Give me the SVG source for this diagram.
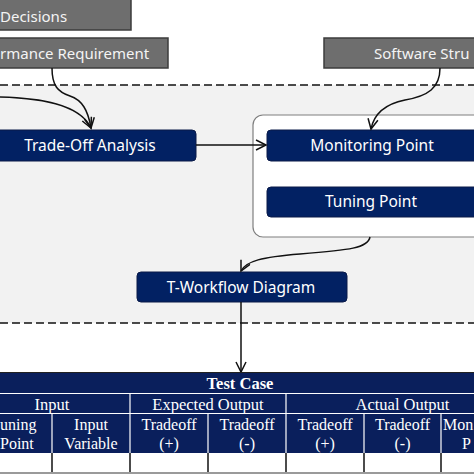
<svg xmlns="http://www.w3.org/2000/svg" width="474" height="474" viewBox="0 0 474 474">
<defs>
<marker id="arr" markerUnits="userSpaceOnUse" markerWidth="14" markerHeight="14" refX="11" refY="6" orient="auto">
<path d="M1,1 L11,6 L1,11" fill="none" stroke="#111" stroke-width="1.5"/>
</marker>
<style>
.gbox{fill:#6e6e6e;stroke:#3c3c3c;stroke-width:1.5}
.gtxt{font-family:"Noto Sans","Open Sans",sans-serif;font-size:15px;fill:#f4f4f4}
.nbox{fill:#022163;stroke:#0a1a48;stroke-width:1}
.ntxt{font-family:"Noto Sans","Open Sans",sans-serif;font-size:15.5px;fill:#ffffff;text-anchor:middle}
.conn{fill:none;stroke:#111;stroke-width:1.5}
.dash{stroke:#111;stroke-width:1.5;stroke-dasharray:8,4}
.tt{font-family:"Liberation Serif","Times New Roman",serif;font-size:16.5px;fill:#ffffff;text-anchor:middle}
.t2{font-size:16px}
.ts{text-anchor:start}
.wl{stroke:#ffffff;stroke-width:1.2}
.bl{stroke:#111;stroke-width:1.5}
</style>
</defs>
<rect width="474" height="474" fill="#ffffff"/>
<rect x="0" y="85" width="474" height="238" fill="#f2f2f2"/>
<line class="dash" x1="0" y1="85" x2="474" y2="85"/>
<line class="dash" x1="0" y1="323" x2="474" y2="323"/>

<g id="decisions">
<rect class="gbox" x="-5" y="-2" width="136" height="32"/>
<text class="gtxt" x="0" y="22">Decisions</text>
</g>
<g id="performance">
<rect class="gbox" x="-5" y="38" width="173" height="30"/>
<text class="gtxt" x="0" y="59">rmance Requirement</text>
</g>
<g id="software">
<rect class="gbox" x="324" y="38" width="160" height="30"/>
<text class="gtxt" x="374" y="59">Software Stru</text>
</g>

<g id="container">
<rect x="253" y="115" width="240" height="122" rx="10" fill="#ffffff" stroke="#7f7f7f" stroke-width="1.2"/>
</g>

<g id="tradeoff">
<rect class="nbox" x="-5" y="130" width="201" height="31" rx="4"/>
<text class="ntxt" x="90" y="151">Trade-Off Analysis</text>
</g>
<g id="monitoring">
<rect class="nbox" x="267" y="130" width="215" height="31" rx="4"/>
<text class="ntxt" x="372" y="151">Monitoring Point</text>
</g>
<g id="tuning">
<rect class="nbox" x="267" y="187" width="215" height="30" rx="4"/>
<text class="ntxt" x="371" y="207">Tuning Point</text>
</g>
<g id="tworkflow">
<rect class="nbox" x="137" y="272" width="210" height="30" rx="4"/>
<text class="ntxt" x="241" y="293">T-Workflow Diagram</text>
</g>

<g id="connectors">
<path class="conn" d="M0,97 C40,98 80,104 91,128" marker-end="url(#arr)"/>
<path class="conn" d="M52,68 C52,86 58,92 70,96 C82,100 88,110 91,128" marker-end="url(#arr)"/>
<path class="conn" d="M440,68 C440,88 428,96 405,100 C385,104 374,114 371,129" marker-end="url(#arr)"/>
<path class="conn" d="M196,145 L266,145" marker-end="url(#arr)"/>
<path class="conn" d="M370,237 C368,248 350,250 300,254 C262,257 246,261 241,271" marker-end="url(#arr)"/>
<path class="conn" d="M241,302 L241,372" marker-end="url(#arr)"/>
</g>

<g id="testcase">
<line x1="0" y1="372.5" x2="474" y2="372.5" stroke="#222" stroke-width="1"/>
<rect x="0" y="373" width="474" height="80" fill="#0a1f5c"/>
<line class="wl" x1="0" y1="393.5" x2="474" y2="393.5"/>
<line class="wl" x1="0" y1="413.5" x2="474" y2="413.5"/>
<line class="wl" x1="130" y1="394" x2="130" y2="453"/>
<line class="wl" x1="286" y1="394" x2="286" y2="453"/>
<line class="wl" x1="52" y1="414" x2="52" y2="453"/>
<line class="wl" x1="208" y1="414" x2="208" y2="453"/>
<line class="wl" x1="364" y1="414" x2="364" y2="453"/>
<line class="wl" x1="441" y1="414" x2="441" y2="453"/>
<rect x="0" y="453" width="474" height="19" fill="#ffffff"/>
<rect x="0" y="472" width="474" height="2" fill="#9a9a9a"/>
<line class="bl" x1="52" y1="453" x2="52" y2="472"/>
<line class="bl" x1="130" y1="453" x2="130" y2="472"/>
<line class="bl" x1="208" y1="453" x2="208" y2="472"/>
<line class="bl" x1="286" y1="453" x2="286" y2="472"/>
<line class="bl" x1="364" y1="453" x2="364" y2="472"/>
<line class="bl" x1="441" y1="453" x2="441" y2="472"/>
<text class="tt" x="240" y="389" font-weight="bold">Test Case</text>
<text class="tt" x="52" y="410">Input</text>
<text class="tt" x="208" y="410">Expected Output</text>
<text class="tt" x="402.5" y="410">Actual Output</text>
<text class="tt t2 ts" y="430"><tspan x="0">uning</tspan><tspan x="0" y="448.5">Point</tspan></text>
<text class="tt t2" y="430"><tspan x="91">Input</tspan><tspan x="91" y="448.5">Variable</tspan></text>
<text class="tt t2" y="430"><tspan x="169">Tradeoff</tspan><tspan x="169" y="448.5">(+)</tspan></text>
<text class="tt t2" y="430"><tspan x="247">Tradeoff</tspan><tspan x="247" y="448.5">(-)</tspan></text>
<text class="tt t2" y="430"><tspan x="325">Tradeoff</tspan><tspan x="325" y="448.5">(+)</tspan></text>
<text class="tt t2" y="430"><tspan x="402.5">Tradeoff</tspan><tspan x="402.5" y="448.5">(-)</tspan></text>
<text class="tt t2 ts" y="430"><tspan x="443">Mon</tspan><tspan x="462" y="448.5">P</tspan></text>
</g>
</svg>
